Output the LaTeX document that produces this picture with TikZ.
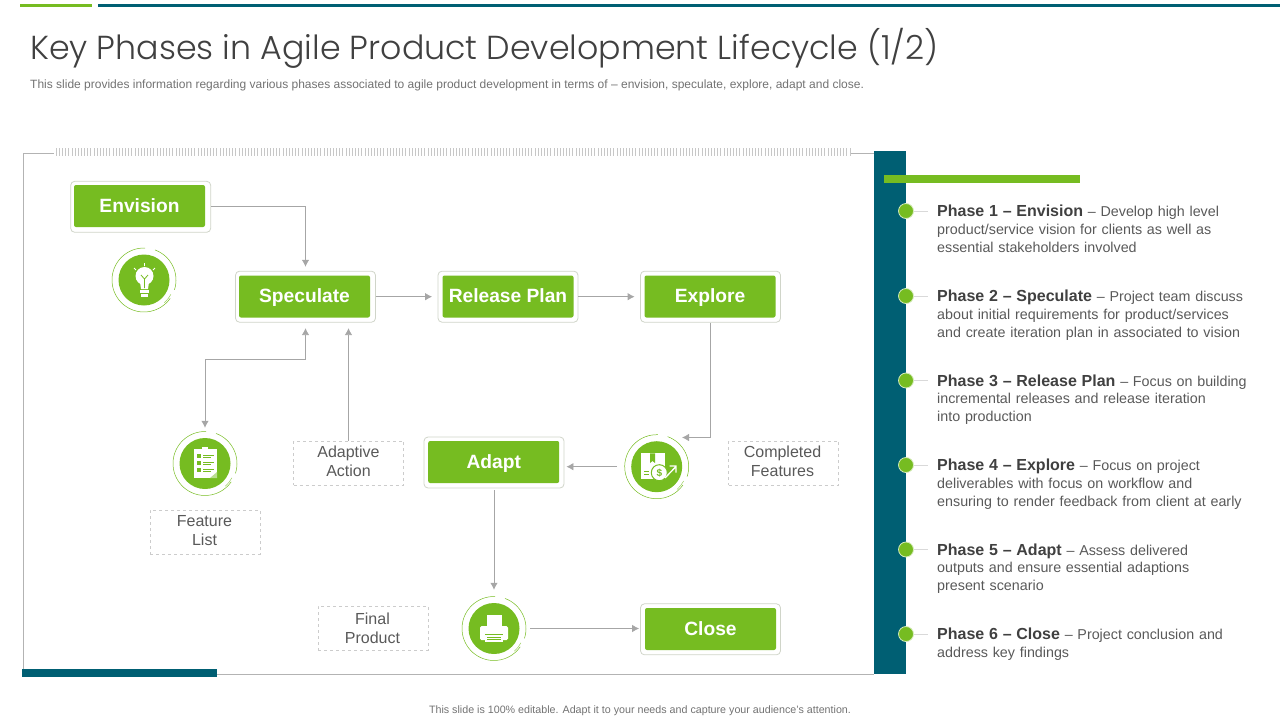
\documentclass[tikz,border=0pt]{standalone}
\usepackage{fontspec}
\setmainfont{Liberation Sans}
\newfontfamily\titlefont{Poppins Light}
\usetikzlibrary{arrows.meta}

\definecolor{leaf}{HTML}{76BC21}
\definecolor{teal}{HTML}{005F73}
\definecolor{wire}{HTML}{A6A6A6}
\definecolor{ink}{HTML}{404040}
\definecolor{note}{HTML}{595959}

\tikzset{
  phasebox/.style={fill=leaf, rounded corners=2pt, text=white, font=\bfseries\fontsize{19.2}{23}\selectfont,
    minimum width=131pt, minimum height=42pt, inner sep=0pt, text height=15pt, text depth=3pt},
  phaseframe/.style={draw=leaf!35!black!22, line width=0.8pt, fill=white, rounded corners=4pt,
    minimum width=140pt, minimum height=51pt, inner sep=0pt},
  notebox/.style={draw=black!20, dashed, line width=0.6pt, minimum width=110pt, minimum height=44pt, inner sep=0pt},
  notelabel/.style={text=note, align=center, inner sep=0pt, font=\fontsize{16}{19}\selectfont},
  wireline/.style={draw=wire, line width=0.8pt},
  wirearrow/.style={wireline, -{Latex[length=7pt,width=7.5pt]}},
  wireboth/.style={wireline, {Latex[length=7pt,width=7.5pt]}-{Latex[length=7pt,width=7.5pt]}},
  disc/.style={circle, fill=leaf, minimum size=51pt, inner sep=0pt},
  bullet/.style={circle, fill=leaf, draw=white!70!leaf, line width=0.8pt, minimum size=15pt, inner sep=0pt},
  phasetext/.style={anchor=north west, inner sep=0pt, text width=320pt, align=left, text=note,
    font=\fontsize{14.3}{17.7}\selectfont}
}

\newcommand{\ringed}[2]{%
  \node[disc] (#1) at (#2) {};
  \draw[leaf, line width=0.5pt] (#1) ++(88:32pt) arc (88:325:32pt);
  \draw[leaf, line width=0.5pt] (#1) ++(70:32pt) arc (70:-18:32pt);
  \draw[leaf!70, line width=0.5pt] (#1) ++(-28:30.5pt) arc (-28:-48:30.5pt);
}
\newcommand{\headline}[1]{\textbf{\color{ink}\fontsize{16}{17.7}\selectfont #1}}

\begin{document}
\begin{tikzpicture}[x=1pt,y=-1pt]
\useasboundingbox (0,0) rectangle (1280,720);

% top rules
\fill[leaf] (20,4) rectangle (92,7);
\fill[teal] (98,4) rectangle (1280,7);

\node[anchor=west, inner sep=0pt, font=\titlefont\fontsize{33.25}{40}\selectfont, text=ink] (title) at (30,48)
  {Key Phases in Agile Product Development Lifecycle (1/2)};
\node[anchor=west, inner sep=0pt, text=note!85, font=\fontsize{12}{14}\selectfont] (lead) at (30,85.5)
  {This slide provides information regarding various phases associated to agile product development in terms of -- envision, speculate, explore, adapt and close.};
\node[anchor=center, inner sep=0pt, text=note!85, font=\fontsize{10.7}{13}\selectfont] (foot) at (640,710.5)
  {This slide is 100\% editable.  Adapt it to your needs and capture your audience's attention.};

% outer frame
\draw[wire!85, line width=0.7pt] (54,153) -- (23,153) -- (23,674) -- (874,674);
\draw[wire!85, line width=0.7pt] (851,153) -- (874,153);
\foreach \i in {0,...,252} {
  \draw[black!22, line width=0.4pt] (56+\i*3.15,148) -- (56+\i*3.15,155.5);
}
\fill[teal] (22,669) rectangle (217,677);
\fill[teal] (874,151) rectangle (906,674);
\fill[leaf] (884,175) rectangle (1080,183);

% green boxes in their frames
\node[phaseframe] (envisionframe) at (140.7,206.8) {};
\node[phaseframe] (speculateframe) at (305.5,296.7) {};
\node[phaseframe] (releaseframe) at (508,296.7) {};
\node[phaseframe] (exploreframe) at (710.5,296.7) {};
\node[phaseframe] (adaptframe) at (494,462.5) {};
\node[phaseframe] (closeframe) at (710.5,629.3) {};
\node[phasebox] (envision) at (139.5,206) {Envision};
\node[phasebox] (speculate) at (304.5,296.5) {Speculate};
\node[phasebox] (release) at (508,296.5) {Release Plan};
\node[phasebox] (explore) at (710,296.5) {Explore};
\node[phasebox] (adapt) at (493.7,462) {Adapt};
\node[phasebox] (close) at (710.5,629) {Close};

\ringed{bulb}{144,280}
\ringed{list}{205,463.5}
\ringed{money}{656.7,466.7}
\ringed{printer}{494,628.5}

% icons
\fill[white] (144.5,276) circle (9pt);
\fill[white] (140,282) -- (149,282) -- (148,289) -- (141,289) -- cycle;
\fill[white] (140,290) rectangle (149,293);
\fill[white] (141,294) rectangle (148,297);
\draw[leaf, line width=0.8pt] (144.5,288) -- (144.5,279) (141,275) -- (144.5,279) -- (148,275);
\draw[white, line width=0.9pt] (144.5,263) -- (144.5,266) (134,268) -- (136,270) (155,268) -- (153,270);

\fill[white] (194,449) rectangle (217,478);
\fill[white] (202,446.5) rectangle (208,450);
\foreach \yy in {454,461,468} {
  \fill[leaf] (197,\yy) rectangle (201,\yy+4);
  \draw[leaf, line width=0.6pt] (203,\yy+1) -- (214,\yy+1) (203,\yy+3.5) -- (211,\yy+3.5);
}
\fill[leaf!50] (217,472) -- (217,478) -- (210,478) -- cycle;

\fill[white] (640.5,453.3) rectangle (665,479);
\fill[leaf] (650,453.3) -- (650,463) -- (652.5,461) -- (655,463) -- (655,453.3) -- cycle;
\fill[white, draw=leaf, line width=1pt] (659.3,472.7) circle (8pt);
\node[text=leaf, inner sep=0pt, font=\bfseries\fontsize{10}{10}\selectfont] (dollar) at (659.3,472.7) {\$};
\draw[white, line width=1.3pt] (665,478) -- (676,466.5) (669.5,466) -- (676,466) -- (676,472.5);
\draw[leaf, line width=1pt] (644,471) -- (649,471) (644,474.5) -- (649,474.5);

\fill[white] (487,615) rectangle (502,626);
\fill[white, rounded corners=1.5pt] (480,626) rectangle (508,640);
\fill[white] (485,638) rectangle (503,642);
\draw[leaf, line width=0.6pt] (485,634) -- (503,634) (487,637) -- (501,637) (487,639.5) -- (501,639.5);

% dashed labels
\node[notebox] (adaptive) at (348.5,463) {};
\node[notebox] (feature) at (205,532) {};
\node[notebox] (completed) at (783.5,463) {};
\node[notebox] (final) at (373,628) {};
\node[notelabel] (adaptivetext) at (348.5,461) {Adaptive\\Action};
\node[notelabel] (featuretext) at (204.5,531) {Feature\\List};
\node[notelabel] (completedtext) at (782.5,461) {Completed\\Features};
\node[notelabel] (finaltext) at (372.5,628) {Final\\Product};

% connectors
\coordinate (moneytip) at (682,437.5);
\coordinate (specturn) at (305.5,359.5);
\draw[wirearrow, shorten >=4pt] (envisionframe.east) -| (speculateframe.north);
\draw[wirearrow, shorten >=5.5pt] (speculateframe.east) -- (releaseframe.west);
\draw[wirearrow, shorten >=5.5pt] (releaseframe.east) -- (exploreframe.west);
\draw[wirearrow] (exploreframe.south) |- (moneytip);
\draw[wirearrow, shorten <=14pt, shorten >=2pt] (money.west) -- (money.west -| adaptframe.east);
\draw[wirearrow, shorten <=2pt, shorten >=13pt] (adaptframe.south) -- (printer.north);
\draw[wirearrow, shorten <=10.5pt, shorten >=1pt] (printer.east) -- (printer.east -| closeframe.west);
\draw[wireboth, shorten <=10pt, shorten >=5.5pt] (list.north) |- (specturn) -- (speculateframe.south);
\draw[wirearrow, shorten >=5.5pt] (adaptive.north) -- (adaptive.north |- speculateframe.south);

% phase list
\foreach \yy/\body in {
  211/{\headline{Phase 1 -- Envision} -- Develop high level\\product/service vision for clients as well as\\essential stakeholders involved},
  296/{\headline{Phase 2 -- Speculate} -- Project team discuss\\about initial requirements for product/services\\and create iteration plan in associated to vision},
  380.5/{\headline{Phase 3 -- Release Plan} -- Focus on building\\incremental releases and release iteration\\into production},
  465/{\headline{Phase 4 -- Explore} -- Focus on project\\deliverables with focus on workflow and\\ensuring to render feedback from client at early},
  549.5/{\headline{Phase 5 -- Adapt} -- Assess delivered\\outputs and ensure essential adaptions\\present scenario},
  634/{\headline{Phase 6 -- Close} -- Project conclusion and\\address key findings}} {
  \draw[black!15, line width=0.6pt] (906,\yy) -- (928,\yy);
  \node[bullet] at (906,\yy) {};
  \node[phasetext] at (937,\yy-6) {\body};
}
\end{tikzpicture}
\end{document}
